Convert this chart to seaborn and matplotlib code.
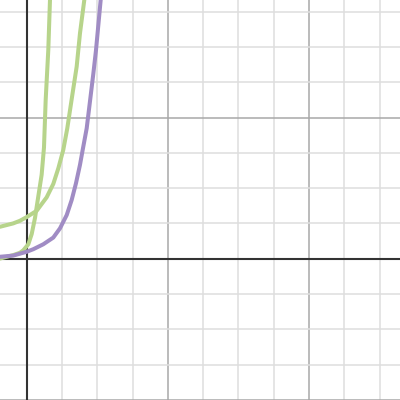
import numpy as np
import pandas as pd
import matplotlib
matplotlib.use("Agg")
import matplotlib.pyplot as plt
from matplotlib.ticker import MultipleLocator
import seaborn as sns

# curve values (major grid = 2, minor = 0.5)
steep_x = [-0.378, -0.190, -0.095, -0.048, 0.023, 0.071, 0.118, 0.164, 0.212, 0.245, 0.269, 0.306, 0.330, 0.345]
steep_y = [0.003, 0.052, 0.085, 0.120, 0.205, 0.350, 0.580, 0.880, 1.190, 1.575, 2.248, 2.956, 3.664, 4.000]

mid_x = [-0.378, -0.190, -0.095, 0.000, 0.142, 0.283, 0.377, 0.448, 0.518, 0.575, 0.642, 0.708, 0.755, 0.816, 0.830]
mid_y = [0.453, 0.501, 0.538, 0.590, 0.680, 0.870, 1.060, 1.280, 1.540, 1.847, 2.290, 2.720, 3.193, 3.664, 3.900]

purple_x = [-0.378, -0.190, 0.000, 0.093, 0.235, 0.377, 0.472, 0.567, 0.637, 0.698, 0.755, 0.793,
            0.850, 0.904, 0.944, 0.982, 1.048, 1.060]
purple_y = [0.028, 0.045, 0.099, 0.135, 0.205, 0.300, 0.431, 0.619, 0.831, 1.068, 1.330, 1.540,
            1.847, 2.290, 2.620, 2.956, 3.664, 3.850]

green = "#b7d48b"
purple = "#a08cc4"

sns.set_style("white")

fig = plt.figure(figsize=(4, 4), dpi=100)
ax = fig.add_axes([0, 0, 1, 1])

# grid
ax.xaxis.set_major_locator(MultipleLocator(2))
ax.xaxis.set_minor_locator(MultipleLocator(0.5))
ax.yaxis.set_major_locator(MultipleLocator(2))
ax.yaxis.set_minor_locator(MultipleLocator(0.5))
ax.grid(which="minor", color="#dedede", linewidth=1.1)
ax.grid(which="major", color="#a8a8a8", linewidth=1.1)
ax.axhline(0, color="#333333", linewidth=1.5)
ax.axvline(0, color="#333333", linewidth=1.5)

line_kw = dict(linewidth=2.9, sort=False, estimator=None,
               solid_joinstyle="round", solid_capstyle="round")
sns.lineplot(x=mid_x, y=mid_y, ax=ax, color=green, **line_kw)
sns.lineplot(x=steep_x, y=steep_y, ax=ax, color=green, **line_kw)
sns.lineplot(x=purple_x, y=purple_y, ax=ax, color=purple, **line_kw)

ax.set_xlim(-0.378, 5.288)
ax.set_ylim(-2.0, 3.664)
ax.tick_params(which="both", length=0, labelbottom=False, labelleft=False)
for s in ax.spines.values():
    s.set_visible(False)

fig.savefig("out.png", dpi=100)
